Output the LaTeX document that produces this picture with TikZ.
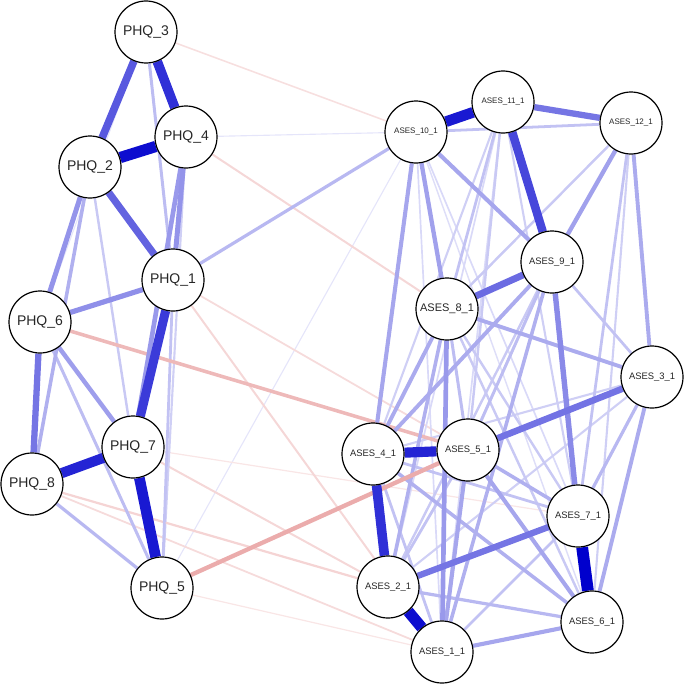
\documentclass[tikz,border=0pt]{standalone}
\usepackage{fontspec}
\setmainfont{Liberation Sans}
\usetikzlibrary{backgrounds}
\definecolor{posblue}{RGB}{0,0,205}
\definecolor{negred}{RGB}{200,30,30}
\newcommand\posE[3]{\pgfmathsetmacro\ewid{0.8+11*#3}\pgfmathtruncatemacro\ecol{8+92*#3}\draw[line width=\ewid pt,draw=posblue!\ecol!white] (#1) -- (#2);}
\newcommand\negE[3]{\pgfmathsetmacro\ewid{0.8+11*#3}\pgfmathtruncatemacro\ecol{8+92*#3}\draw[line width=\ewid pt,draw=negred!\ecol!white] (#1) -- (#2);}
\tikzset{
  vnode/.style={circle, draw=black, line width=1.2pt, fill=white, minimum size=62pt, inner sep=0pt, text=black!85},
  phq/.style={vnode, font=\fontsize{14}{14}\selectfont},
  ases/.style={vnode, font=\fontsize{9.4}{9.4}\selectfont},
  asessmall/.style={vnode, font=\fontsize{8}{8}\selectfont},
  aseslarge/.style={vnode, font=\fontsize{11}{11}\selectfont}
}
\begin{document}
\begin{tikzpicture}[x=1pt,y=-1pt]
\useasboundingbox (0,0) rectangle (685,685);
% nodes
\node[phq] (P3) at (146,32) {PHQ\_3};
\node[phq] (P4) at (186,137) {PHQ\_4};
\node[phq] (P2) at (90,167) {PHQ\_2};
\node[phq] (P1) at (173,280) {PHQ\_1};
\node[phq] (P6) at (40,322) {PHQ\_6};
\node[phq] (P7) at (133,447) {PHQ\_7};
\node[phq] (P8) at (32,484) {PHQ\_8};
\node[phq] (P5) at (162,588) {PHQ\_5};
\node[asessmall] (A10) at (416,132) {ASES\_10\_1};
\node[asessmall] (A11) at (503,102) {ASES\_11\_1};
\node[asessmall] (A12) at (631,123) {ASES\_12\_1};
\node[ases] (A9) at (552,262) {ASES\_9\_1};
\node[aseslarge] (A8) at (447,309) {ASES\_8\_1};
\node[ases] (A3) at (652,377) {ASES\_3\_1};
\node[ases] (A4) at (373,454) {ASES\_4\_1};
\node[ases] (A5) at (468,450) {ASES\_5\_1};
\node[ases] (A7) at (578,516) {ASES\_7\_1};
\node[ases] (A2) at (388,587) {ASES\_2\_1};
\node[ases] (A6) at (592,622) {ASES\_6\_1};
\node[ases] (A1) at (442,652) {ASES\_1\_1};
\begin{pgfonlayer}{background}
\posE{P3}{P6}{0.03}
\posE{P4}{A10}{0.03}
\posE{P5}{A10}{0.03}
\negE{P5}{A1}{0.04}
\negE{P7}{A7}{0.04}
\negE{P3}{A10}{0.07}
\posE{A10}{A6}{0.06}
\negE{P1}{A5}{0.09}
\negE{P8}{A1}{0.09}
\posE{A10}{A7}{0.08}
\posE{A11}{A1}{0.08}
\posE{A11}{A2}{0.08}
\posE{A10}{A1}{0.08}
\negE{P4}{A8}{0.11}
\negE{P1}{A1}{0.11}
\negE{P7}{A2}{0.11}
\posE{P4}{P5}{0.12}
\posE{A12}{A6}{0.12}
\posE{A11}{A4}{0.12}
\posE{A11}{A7}{0.12}
\posE{A3}{A2}{0.12}
\posE{A3}{A4}{0.12}
\negE{P8}{A2}{0.13}
\posE{P2}{P7}{0.15}
\posE{A11}{A5}{0.15}
\posE{A9}{A2}{0.15}
\posE{A8}{A7}{0.15}
\posE{A8}{A6}{0.15}
\posE{A12}{A8}{0.15}
\posE{P1}{P5}{0.18}
\posE{A4}{A7}{0.18}
\posE{A1}{A7}{0.18}
\posE{A12}{A7}{0.18}
\posE{A11}{A8}{0.18}
\posE{A10}{A12}{0.18}
\posE{A9}{A3}{0.18}
\posE{A5}{A2}{0.18}
\posE{A4}{A1}{0.18}
\posE{P3}{P1}{0.2}
\posE{P6}{P5}{0.2}
\posE{A9}{A5}{0.2}
\posE{A8}{A5}{0.2}
\posE{P8}{P5}{0.22}
\posE{P1}{A10}{0.22}
\posE{A3}{A7}{0.22}
\posE{A2}{A6}{0.22}
\negE{P6}{A5}{0.25}
\posE{P2}{P8}{0.25}
\posE{A5}{A7}{0.25}
\posE{A9}{A1}{0.25}
\posE{A8}{A2}{0.25}
\posE{A4}{A6}{0.25}
\posE{A12}{A3}{0.28}
\posE{A8}{A3}{0.28}
\posE{A9}{A4}{0.28}
\posE{A8}{A4}{0.28}
\posE{A3}{A6}{0.28}
\posE{A1}{A6}{0.3}
\posE{A10}{A9}{0.3}
\posE{A10}{A4}{0.3}
\posE{A5}{A6}{0.3}
\posE{A5}{A1}{0.3}
\negE{P5}{A5}{0.32}
\posE{A12}{A9}{0.32}
\posE{A10}{A8}{0.32}
\posE{P6}{P7}{0.33}
\posE{P4}{P7}{0.35}
\posE{A8}{A1}{0.35}
\posE{P4}{P1}{0.38}
\posE{P2}{P6}{0.38}
\posE{P1}{P6}{0.4}
\posE{A9}{A7}{0.42}
\posE{P6}{P8}{0.5}
\posE{A11}{A12}{0.5}
\posE{A2}{A7}{0.5}
\posE{A5}{A3}{0.52}
\posE{A9}{A8}{0.55}
\posE{P2}{P1}{0.58}
\posE{P3}{P2}{0.62}
\posE{A11}{A9}{0.7}
\posE{P1}{P7}{0.75}
\posE{P3}{P4}{0.8}
\posE{A4}{A2}{0.8}
\posE{P7}{P8}{0.85}
\posE{A4}{A5}{0.85}
\posE{P7}{P5}{0.9}
\posE{A10}{A11}{0.9}
\posE{P2}{P4}{0.95}
\posE{A2}{A1}{0.95}
\posE{A7}{A6}{1.0}
\end{pgfonlayer}
\end{tikzpicture}
\end{document}
